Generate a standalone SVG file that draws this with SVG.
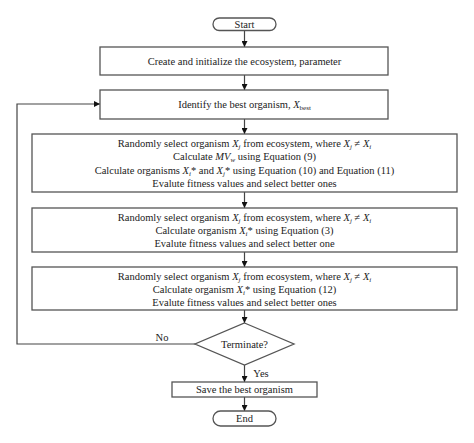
<svg xmlns="http://www.w3.org/2000/svg" width="474" height="443" viewBox="0 0 474 443">
<defs>
<style>
.box{fill:#fff;stroke:#555;stroke-width:1.3}
.ln{fill:none;stroke:#444;stroke-width:1.2}
text{font-family:"Liberation Serif","Times New Roman",serif;font-size:10.5px;fill:#222;text-anchor:middle}
.it{font-style:italic}
.sb{font-size:7px}
</style>
<marker id="ah" viewBox="0 0 10 10" refX="10" refY="5" markerWidth="6" markerHeight="6" orient="auto" markerUnits="userSpaceOnUse">
<path d="M0,0 L10,5 L0,10 z" fill="#111"/>
</marker>
</defs>
<rect width="474" height="443" fill="#fff"/>
<g id="connectors">
<line class="ln" x1="244.5" y1="30" x2="244.5" y2="47" marker-end="url(#ah)"/>
<line class="ln" x1="244.5" y1="75" x2="244.5" y2="90" marker-end="url(#ah)"/>
<line class="ln" x1="244.5" y1="119" x2="244.5" y2="134" marker-end="url(#ah)"/>
<line class="ln" x1="244.5" y1="192" x2="244.5" y2="208" marker-end="url(#ah)"/>
<line class="ln" x1="244.5" y1="252" x2="244.5" y2="267" marker-end="url(#ah)"/>
<line class="ln" x1="244.5" y1="310" x2="244.5" y2="323" marker-end="url(#ah)"/>
<line class="ln" x1="244.5" y1="365" x2="244.5" y2="382" marker-end="url(#ah)"/>
<line class="ln" x1="244.5" y1="397" x2="244.5" y2="411" marker-end="url(#ah)"/>
<polyline class="ln" points="195,344 17,344 17,104 100,104" marker-end="url(#ah)"/>
<text x="162" y="341">No</text>
<text x="261" y="377">Yes</text>
</g>
<g id="start">
<rect class="box" x="213" y="18" width="63" height="12.5" rx="6.25"/>
<text x="244.5" y="28">Start</text>
</g>
<g id="init">
<rect class="box" x="100" y="47" width="288" height="28"/>
<text x="244.5" y="64.5">Create and initialize the ecosystem, parameter</text>
</g>
<g id="identify">
<rect class="box" x="100" y="90" width="288" height="29"/>
<text x="244.5" y="108">Identify the best organism, <tspan class="it">X</tspan><tspan class="sb" dy="2">best</tspan></text>
</g>
<g id="mutualism">
<rect class="box" x="32" y="134" width="425" height="58"/>
<text x="244.5" y="146.5">Randomly select organism <tspan class="it">X</tspan><tspan class="sb it" dy="2">j</tspan><tspan dy="-2"> from ecosystem, where </tspan><tspan class="it">X</tspan><tspan class="sb it" dy="2">j</tspan><tspan dy="-2"> ≠ </tspan><tspan class="it">X</tspan><tspan class="sb it" dy="2">i</tspan></text>
<text x="244.5" y="160">Calculate <tspan class="it">MV</tspan><tspan class="sb it" dy="2">w</tspan><tspan dy="-2"> using Equation (9)</tspan></text>
<text x="244.5" y="173.5">Calculate organisms <tspan class="it">X</tspan><tspan class="sb it" dy="2">i</tspan><tspan dy="-2">* and </tspan><tspan class="it">X</tspan><tspan class="sb it" dy="2">j</tspan><tspan dy="-2">* using Equation (10) and Equation (11)</tspan></text>
<text x="244.5" y="187">Evalute fitness values and select better ones</text>
</g>
<g id="commensalism">
<rect class="box" x="32" y="208" width="425" height="44"/>
<text x="244.5" y="220.5">Randomly select organism <tspan class="it">X</tspan><tspan class="sb it" dy="2">j</tspan><tspan dy="-2"> from ecosystem, where </tspan><tspan class="it">X</tspan><tspan class="sb it" dy="2">j</tspan><tspan dy="-2"> ≠ </tspan><tspan class="it">X</tspan><tspan class="sb it" dy="2">i</tspan></text>
<text x="244.5" y="233.5">Calculate organism <tspan class="it">X</tspan><tspan class="sb it" dy="2">i</tspan><tspan dy="-2">* using Equation (3)</tspan></text>
<text x="244.5" y="246.5">Evalute fitness values and select better one</text>
</g>
<g id="parasitism">
<rect class="box" x="32" y="267" width="425" height="43"/>
<text x="244.5" y="279.5">Randomly select organism <tspan class="it">X</tspan><tspan class="sb it" dy="2">j</tspan><tspan dy="-2"> from ecosystem, where </tspan><tspan class="it">X</tspan><tspan class="sb it" dy="2">j</tspan><tspan dy="-2"> ≠ </tspan><tspan class="it">X</tspan><tspan class="sb it" dy="2">i</tspan></text>
<text x="244.5" y="292.5">Calculate organism <tspan class="it">X</tspan><tspan class="sb it" dy="2">i</tspan><tspan dy="-2">* using Equation (12)</tspan></text>
<text x="244.5" y="305.5">Evalute fitness values and select better ones</text>
</g>
<g id="terminate">
<polygon class="box" points="244.5,323 294,344 244.5,365 195,344"/>
<text x="244.5" y="347.5">Terminate?</text>
</g>
<g id="save">
<rect class="box" x="172" y="382" width="145" height="15"/>
<text x="244.5" y="393">Save the best organism</text>
</g>
<g id="end">
<rect class="box" x="213" y="411" width="63" height="15" rx="7.5"/>
<text x="244.5" y="422">End</text>
</g>
</svg>
